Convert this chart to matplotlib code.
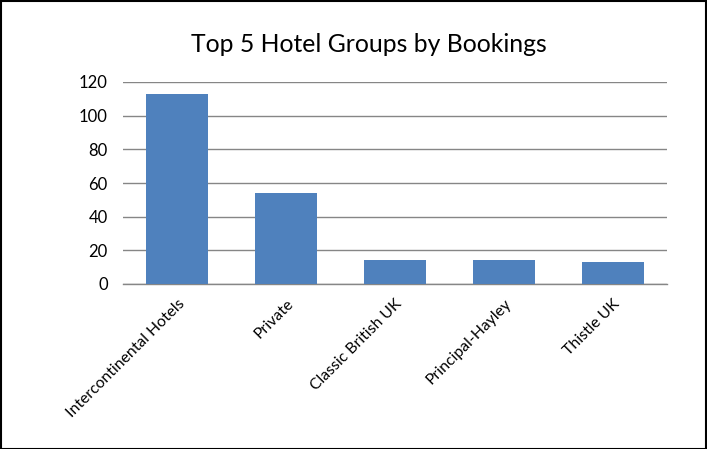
import matplotlib.pyplot as plt
from matplotlib.patches import Rectangle

# chart data
groups = ["Intercontinental Hotels", "Private", "Classic British UK",
          "Principal-Hayley", "Thistle UK"]
bookings = [113, 54, 14, 14, 13]
yticks = [0, 20, 40, 60, 80, 100, 120]

plt.rcParams['font.family'] = ['Lato', 'DejaVu Sans']

W, H = 707, 449
fig = plt.figure(figsize=(W / 100, H / 100), dpi=100)
ax = fig.add_axes([123 / W, 1 - 284 / H, (667 - 123) / W, (284 - 82) / H])

ax.bar(range(len(groups)), bookings, width=0.57, color='#4F81BD', zorder=3)
ax.set_xlim(-0.5, len(groups) - 0.5)
ax.set_ylim(0, 120)
ax.set_yticks(yticks)
ax.grid(axis='y', color='#868686', linewidth=1, zorder=0)

for s in ['top', 'right', 'left']:
    ax.spines[s].set_visible(False)
ax.spines['bottom'].set_color('#868686')
ax.spines['bottom'].set_linewidth(1)
ax.tick_params(axis='both', length=0, colors='black')
ax.tick_params(axis='y', pad=11, labelsize=12)

ax.set_xticks(range(len(groups)))
ax.set_xticklabels(groups, rotation=45, ha='right', rotation_mode='anchor')
ax.tick_params(axis='x', pad=9, labelsize=11.3)

fig.text(369 / W, 1 - 45 / H, "Top 5 Hotel Groups by Bookings", ha='center',
         va='center', fontsize=17.8)

# outer frame of the chart
fig.patches.append(Rectangle((0.5 / W, 0.5 / H), 1 - 1.5 / W, 1 - 1.5 / H,
                             transform=fig.transFigure, fill=False,
                             edgecolor='black', linewidth=1.5))

fig.savefig("out.png", dpi=100)
